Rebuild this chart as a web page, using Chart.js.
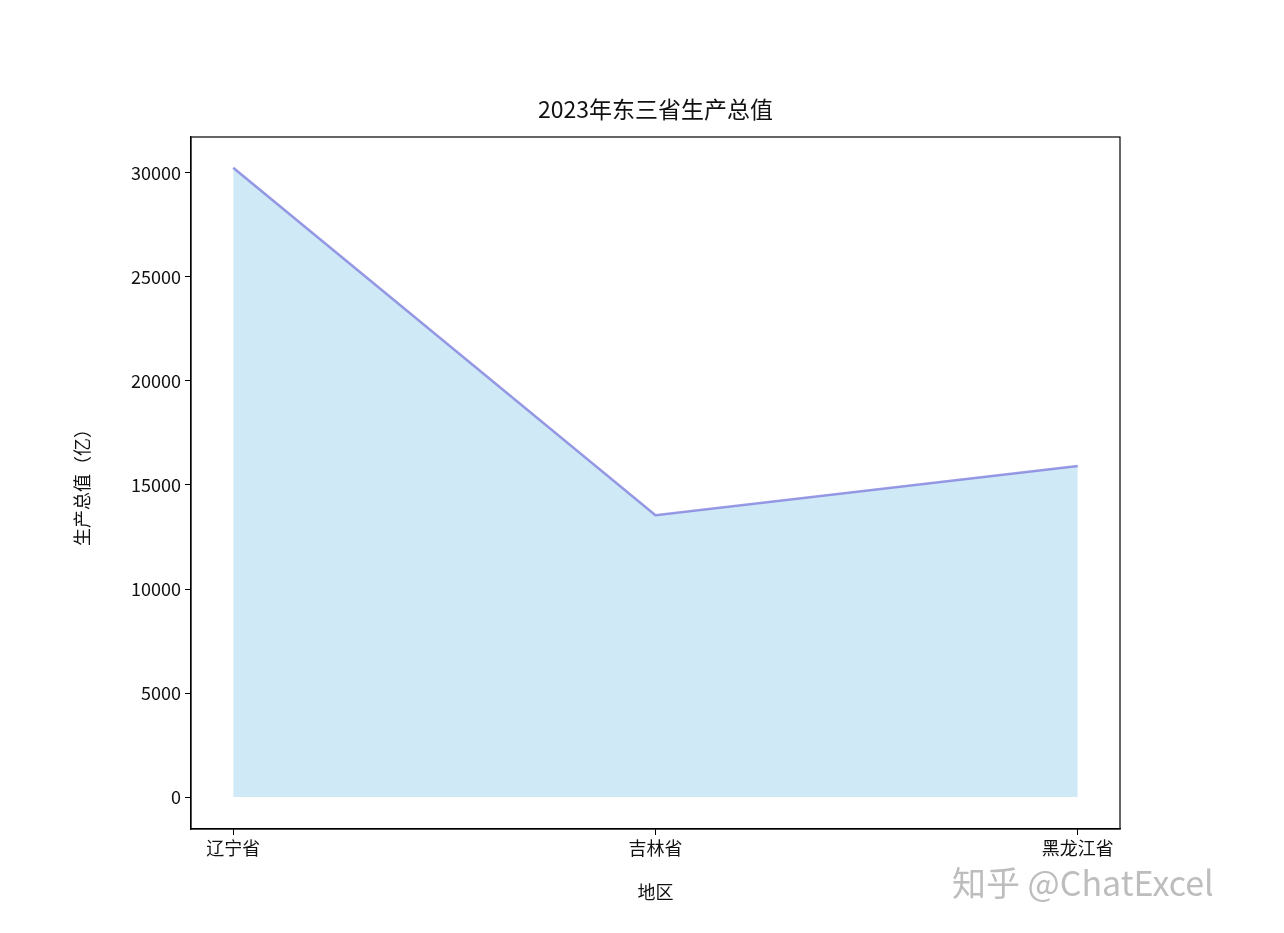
<!DOCTYPE html>
<html><head><meta charset="utf-8">
<script src="https://cdn.jsdelivr.net/npm/chart.js@4"></script>
<style>
body{margin:0;background:#fff;font-family:"Noto Sans CJK SC",sans-serif;}
#wrap{position:relative;width:1284px;height:933px;}
#title{position:absolute;top:92px;left:191px;width:929px;text-align:center;font-size:23px;line-height:32px;color:#111;}
#mark{position:absolute;left:952px;top:860px;font-size:34px;line-height:44px;color:#bdbdbd;}
</style></head>
<body><div id="wrap">
<canvas id="c" width="1284" height="933"></canvas>
<div id="title">2023年东三省生产总值</div>
<div id="mark">知乎 @ChatExcel</div>
</div>
<script>
// 数据
const regions = ['辽宁省', '吉林省', '黑龙江省'];
const gdp = [30250, 13550, 15910];
const yTicks = [0, 5000, 10000, 15000, 20000, 25000, 30000];

const points = gdp.map((v, i) => ({x: i, y: v}));
const tickFont = {family: '"Noto Sans CJK SC", sans-serif', size: 18};

new Chart(document.getElementById('c'), {
    type: 'line',
    data: {
        datasets: [{
            data: points,
            borderColor: 'rgba(120,120,220,0.75)',
            borderWidth: 2.5,
            backgroundColor: 'rgba(135,200,232,0.4)',
            fill: 'origin',
            pointRadius: 0,
            tension: 0
        }]
    },
    options: {
        responsive: false,
        animation: false,
        layout: {padding: {top: 137, right: 164, left: 0, bottom: 0}},
        plugins: {legend: {display: false}, tooltip: {enabled: false}},
        scales: {
            x: {
                type: 'linear', min: -0.1, max: 2.1,
                afterFit: s => { s.height = 104; },
                afterBuildTicks: s => { s.ticks = regions.map((_, i) => ({value: i})); },
                ticks: {color: '#111', font: tickFont, callback: v => regions[v], padding: 2},
                grid: {drawOnChartArea: false, tickLength: 6, color: '#000'},
                border: {color: '#000', width: 1.2}
            },
            y: {
                min: -1538, max: 31730,
                afterFit: s => { s.width = 191; },
                afterBuildTicks: s => { s.ticks = yTicks.map(v => ({value: v})); },
                ticks: {color: '#111', font: tickFont, padding: 4, callback: v => String(v)},
                grid: {drawOnChartArea: false, tickLength: 6, color: '#000'},
                border: {color: '#000', width: 1.2}
            }
        }
    },
    plugins: [{
        id: 'frame',
        afterDraw(chart) {
            const {ctx, chartArea: a} = chart;
            ctx.save();
            ctx.strokeStyle = '#000';
            ctx.lineWidth = 1.2;
            ctx.strokeRect(a.left, a.top, a.right - a.left, a.bottom - a.top);
            ctx.fillStyle = '#111';
            ctx.font = '18px "Noto Sans CJK SC", sans-serif';
            ctx.textAlign = 'center';
            ctx.textBaseline = 'middle';
            ctx.fillText('地区', (a.left + a.right) / 2, 892);
            ctx.translate(82, (a.top + a.bottom) / 2);
            ctx.rotate(-Math.PI / 2);
            ctx.fillText('生产总值（亿）', 0, 0);
            ctx.restore();
        }
    }]
});
</script>
</body></html>
